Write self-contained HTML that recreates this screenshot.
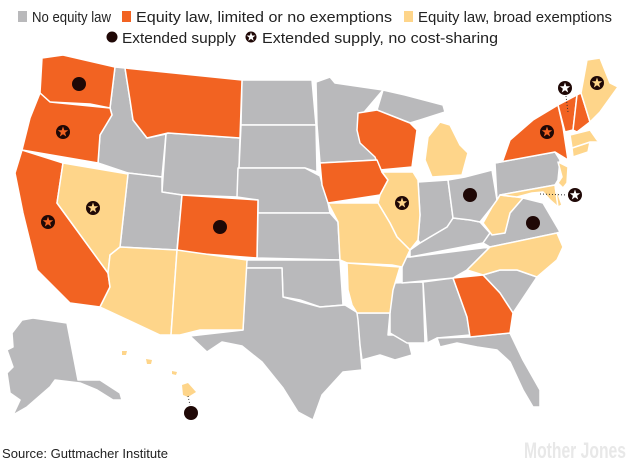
<!DOCTYPE html>
<html><head><meta charset="utf-8"><style>
html,body{margin:0;padding:0;background:#fff;}
svg{display:block;}
text{font-family:"Liberation Sans",sans-serif;}
</style></head><body>
<svg width="630" height="465" viewBox="0 0 630 465" xmlns="http://www.w3.org/2000/svg">
<defs>
<symbol id="star" viewBox="-7 -7 14 14"><polygon points="0,-5.5 1.3,-1.8 5.2,-1.7 2.1,0.7 3.2,4.5 0,2.2 -3.2,4.5 -2.1,0.7 -5.2,-1.7 -1.3,-1.8"/></symbol>
</defs>
<!-- legend -->
<rect x="18" y="11" width="9" height="11" fill="#b9b9bb"/>
<text x="32" y="22" font-size="15" fill="#222" textLength="79" lengthAdjust="spacingAndGlyphs">No equity law</text>
<rect x="122" y="11" width="9" height="11" fill="#f26322"/>
<text x="136" y="22" font-size="15" fill="#222" textLength="256" lengthAdjust="spacingAndGlyphs">Equity law, limited or no exemptions</text>
<rect x="404" y="11" width="9" height="11" fill="#fed58a"/>
<text x="418" y="22" font-size="15" fill="#222" textLength="194" lengthAdjust="spacingAndGlyphs">Equity law, broad exemptions</text>
<circle cx="112" cy="37" r="5.5" fill="#1f0806"/>
<text x="122" y="43" font-size="15" fill="#222" textLength="114" lengthAdjust="spacingAndGlyphs">Extended supply</text>
<circle cx="251" cy="37" r="5.5" fill="#1f0806"/>
<use href="#star" x="245" y="31" width="12" height="12" fill="#fff"/>
<text x="262" y="43" font-size="15" fill="#222" textLength="236" lengthAdjust="spacingAndGlyphs">Extended supply, no cost-sharing</text>

<g stroke="#fff" stroke-width="1.5" stroke-linejoin="round">
<g fill="#b9b9bb">
<polygon points="115,67 125,68 130,100 133,120 147,138 166,134 162,177 128,173 98,163 100,135 112,115 110,108"/>
<polygon points="168,133 240,138 238,197 182,195 162,192 166,134"/>
<polygon points="128,173 162,177 162,192 182,195 177,250 120,247"/>
<polygon points="242,80 312,80 316,125 241,125"/>
<polygon points="241,125 316,125 317,172 305,168 239,168"/>
<polygon points="238,168 305,168 320,176 328,203 330,213 258,213 258,200 237,197"/>
<polygon points="258,213 330,213 338,222 340,260 257,258"/>
<polygon points="247,260 340,260 343,305 320,307 300,300 283,297 282,268 246,268"/>
<polygon points="246,268 282,268 283,297 320,307 345,305 358,313 360,345 362,370 343,372 322,395 313,420 298,412 283,388 262,362 242,346 222,342 207,352 190,336 243,330"/>
<polygon points="316,82 330,77 335,83 383,90 360,117 357,130 367,140 377,160 320,163 317,125"/>
<polygon points="383,90 405,95 443,105 445,112 420,120 410,123 377,110"/>
<polygon points="357,313 390,313 388,335 407,335 412,355 395,360 380,355 362,360 360,345 358,320"/>
<polygon points="392,283 423,282 425,343 407,343 390,333 390,313"/>
<polygon points="423,282 453,278 467,317 470,335 437,338 427,343"/>
<polygon points="437,338 470,337 510,333 523,360 540,390 540,407 533,407 523,390 510,362 497,350 477,347 457,343 440,347"/>
<polygon points="483,275 500,270 517,270 537,277 517,307 513,313 500,293"/>
<polygon points="402,257 410,257 490,247 467,270 453,278 402,283"/>
<polygon points="410,250 420,243 430,237 447,227 453,218 470,220 480,222 490,233 483,243 410,257"/>
<polygon points="418,182 448,180 453,218 447,227 430,237 420,243 418,240 420,215"/>
<polygon points="448,180 465,177 492,170 497,200 492,207 480,222 470,220 453,218"/>
<polygon points="495,163 555,152 560,160 558,180 555,185 500,195 497,200"/>
<polygon points="490,247 483,243 490,233 505,233 510,213 523,198 543,203 553,220 560,232 557,233"/>
<polygon points="22,320 33,318 67,323 78,380 90,380 100,380 120,393 122,400 113,400 97,390 80,383 55,380 50,387 27,407 13,415 20,400 10,393 7,373 13,367 7,350 13,347 12,333"/>
</g>
<g fill="#f26322">
<polygon points="42,58 63,55 115,67 110,108 90,104 50,102 40,93"/>
<polygon points="40,93 50,102 110,108 112,115 100,135 98,163 22,150 30,118"/>
<polygon points="22,150 63,163 57,203 108,273 110,287 100,307 70,303 37,270 23,213 15,173"/>
<polygon points="125,68 242,80 240,138 168,133 147,138 133,120 130,100"/>
<polygon points="182,195 258,200 257,258 177,252"/>
<polygon points="358,113 377,110 410,123 417,130 412,167 380,170 375,157 360,143 357,130"/>
<polygon points="320,163 377,160 382,172 388,180 380,195 328,203 322,185"/>
<polygon points="453,278 483,275 500,293 513,313 510,333 470,337 467,317"/>
<polygon points="503,160 510,140 533,120 558,105 563,127 568,160 555,152 495,163"/>
<polygon points="558,105 577,95 573,130 565,132"/>
<polygon points="577,95 581,93 590,122 577,132 573,130"/>
</g>
<g fill="#fed58a">
<polygon points="63,163 128,174 120,247 110,255 108,273 57,203"/>
<polygon points="120,247 177,250 171,335 160,335 100,307 110,287 108,273 110,255"/>
<polygon points="177,250 247,260 243,330 200,330 180,335 171,335"/>
<polygon points="428,137 440,122 450,125 455,135 460,145 468,153 462,175 432,177 425,160"/>
<polygon points="382,172 413,172 418,180 420,215 418,240 410,250 397,237 390,223 378,203 380,195 388,180"/>
<polygon points="328,203 378,203 390,223 397,237 410,250 402,267 392,265 347,263 340,260 338,222"/>
<polygon points="347,263 400,267 393,290 390,313 357,313 352,305 348,290"/>
<polygon points="467,270 490,247 557,233 563,247 557,260 537,277 517,270 500,270 483,275"/>
<polygon points="497,200 500,195 517,197 523,198 510,213 505,233 492,235 483,223 492,207"/>
<polygon points="500,195 555,185 558,207 550,200 543,192 532,193 517,197"/>
<polygon points="555,185 562,205 558,207"/>
<polygon points="558,162 568,167 567,183 563,188 558,183 562,177"/>
<polygon points="572,148 590,142 588,152 573,157"/>
<polygon points="570,135 590,130 597,140 600,142 590,142 572,148"/>
<polygon points="581,93 587,60 600,58 610,83 618,87 600,112 590,122"/>
<polygon points="122,351 127,351 126,355 122,355" stroke="none"/>
<polygon points="146,359 152,360 151,364 147,364" stroke="none"/>
<polygon points="172,371 177,372 176,375 172,374" stroke="none"/>
<polygon points="182,385 188,383 196,392 188,397 183,395" stroke="none"/>
</g>
</g>
<g fill="#1f0806">
<circle cx="79" cy="84" r="7"/>
<circle cx="220" cy="227" r="7"/>
<circle cx="470" cy="195" r="7"/>
<circle cx="533" cy="223" r="7"/>
<circle cx="191" cy="413" r="7"/>
<circle cx="63" cy="132" r="7"/>
<circle cx="48" cy="222" r="7"/>
<circle cx="93" cy="208" r="7"/>
<circle cx="402" cy="203" r="7"/>
<circle cx="547" cy="132" r="7"/>
<circle cx="565" cy="88" r="7"/>
<circle cx="597" cy="83" r="7"/>
<circle cx="575" cy="195" r="7"/>
</g>
<g>
<use href="#star" x="56" y="125" width="14" height="14" fill="#f26322"/>
<use href="#star" x="41" y="215" width="14" height="14" fill="#f26322"/>
<use href="#star" x="86" y="201" width="14" height="14" fill="#fed58a"/>
<use href="#star" x="395" y="196" width="14" height="14" fill="#fed58a"/>
<use href="#star" x="540" y="125" width="14" height="14" fill="#f26322"/>
<use href="#star" x="558" y="81" width="14" height="14" fill="#fff"/>
<use href="#star" x="590" y="76" width="14" height="14" fill="#fed58a"/>
<use href="#star" x="568" y="188" width="14" height="14" fill="#fff"/>
</g>
<g stroke="#333" stroke-width="1" stroke-dasharray="1,2" fill="none">
<line x1="566" y1="96" x2="568" y2="112"/>
<line x1="540" y1="194" x2="567" y2="195"/>
<line x1="188" y1="396" x2="190" y2="405"/>
</g>
<text x="2" y="458" font-size="13" fill="#222" textLength="166" lengthAdjust="spacingAndGlyphs">Source: Guttmacher Institute</text>
<text x="524" y="458" font-size="22" font-weight="bold" font-family="Liberation Serif" fill="#e8e8e8" textLength="102" lengthAdjust="spacingAndGlyphs">Mother Jones</text>
</svg>
</body></html>
